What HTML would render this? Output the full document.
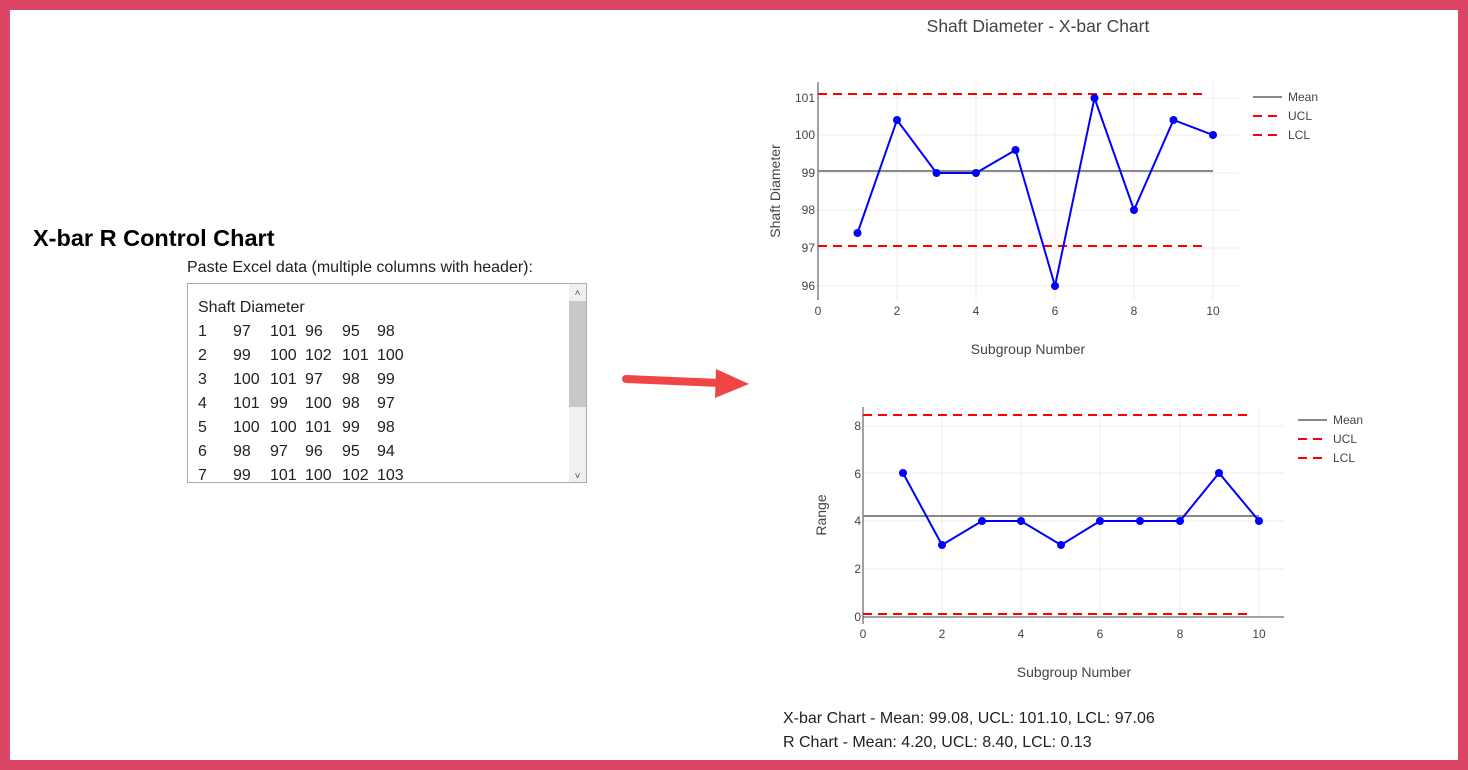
<!DOCTYPE html>
<html><head><meta charset="utf-8"><style>
html,body{margin:0;padding:0;width:1468px;height:770px;overflow:hidden;background:#dc4666;}
#w{position:absolute;left:10px;top:10px;width:1448px;height:750px;background:#fff;}
svg{position:absolute;left:0;top:0;}
</style></head><body>
<div id="w"></div>
<svg width="1468" height="770" xmlns="http://www.w3.org/2000/svg" font-family="'Liberation Sans',sans-serif">
<text x="33" y="246" font-size="23.5" font-weight="bold" fill="#000">X-bar R Control Chart</text>
<text x="187" y="272" font-size="16" fill="#222">Paste Excel data (multiple columns with header):</text>
<rect x="187.5" y="283.5" width="399" height="199" fill="#fff" stroke="#aaa"/>
<rect x="569" y="284" width="17" height="198" fill="#f0f0f0"/>
<rect x="569" y="301" width="17" height="106" fill="#c8c8c8"/>
<text x="577.5" y="296" font-size="10" text-anchor="middle" fill="#555">˄</text>
<text x="577.5" y="479" font-size="10" text-anchor="middle" fill="#555">˅</text>
<g font-size="16" fill="#222">
<text x="198" y="312">Shaft Diameter</text>
<text x="198" y="336">1</text><text x="233" y="336">97</text><text x="270" y="336">101</text><text x="305" y="336">96</text><text x="342" y="336">95</text><text x="377" y="336">98</text>
<text x="198" y="360">2</text><text x="233" y="360">99</text><text x="270" y="360">100</text><text x="305" y="360">102</text><text x="342" y="360">101</text><text x="377" y="360">100</text>
<text x="198" y="384">3</text><text x="233" y="384">100</text><text x="270" y="384">101</text><text x="305" y="384">97</text><text x="342" y="384">98</text><text x="377" y="384">99</text>
<text x="198" y="408">4</text><text x="233" y="408">101</text><text x="270" y="408">99</text><text x="305" y="408">100</text><text x="342" y="408">98</text><text x="377" y="408">97</text>
<text x="198" y="432">5</text><text x="233" y="432">100</text><text x="270" y="432">100</text><text x="305" y="432">101</text><text x="342" y="432">99</text><text x="377" y="432">98</text>
<text x="198" y="456">6</text><text x="233" y="456">98</text><text x="270" y="456">97</text><text x="305" y="456">96</text><text x="342" y="456">95</text><text x="377" y="456">94</text>
<text x="198" y="480">7</text><text x="233" y="480">99</text><text x="270" y="480">101</text><text x="305" y="480">100</text><text x="342" y="480">102</text><text x="377" y="480">103</text>
</g>
<path d="M626 379 L720 383" stroke="#f04545" stroke-width="8" stroke-linecap="round"/>
<path d="M716 369 L749 384 L715 398 Z" fill="#f04545"/>

<text x="1038" y="32" font-size="17.5" fill="#444" text-anchor="middle">Shaft Diameter - X-bar Chart</text>
<g stroke="#eee" stroke-width="1">
<line x1="897" y1="82" x2="897" y2="300"/><line x1="976" y1="82" x2="976" y2="300"/><line x1="1055" y1="82" x2="1055" y2="300"/><line x1="1134" y1="82" x2="1134" y2="300"/><line x1="1213" y1="82" x2="1213" y2="300"/>
<line x1="818" y1="98" x2="1239" y2="98"/><line x1="818" y1="135" x2="1239" y2="135"/><line x1="818" y1="173" x2="1239" y2="173"/><line x1="818" y1="210" x2="1239" y2="210"/><line x1="818" y1="248" x2="1239" y2="248"/><line x1="818" y1="286" x2="1239" y2="286"/>
</g>
<line x1="818" y1="82" x2="818" y2="300" stroke="#444" stroke-width="1"/>
<line x1="818" y1="94" x2="1206" y2="94" stroke="#f00" stroke-width="2" stroke-dasharray="9,6"/>
<line x1="818" y1="246" x2="1206" y2="246" stroke="#f00" stroke-width="2" stroke-dasharray="9,6"/>
<line x1="818" y1="171" x2="1213" y2="171" stroke="#888" stroke-width="2"/>
<polyline fill="none" stroke="#00f" stroke-width="2" points="857.5,233 897,120 936.5,173 976,173 1015.5,150 1055,286 1094.5,98 1134,210 1173.5,120 1213,135"/>
<g fill="#00f"><circle cx="857.5" cy="233" r="4"/><circle cx="897" cy="120" r="4"/><circle cx="936.5" cy="173" r="4"/><circle cx="976" cy="173" r="4"/><circle cx="1015.5" cy="150" r="4"/><circle cx="1055" cy="286" r="4"/><circle cx="1094.5" cy="98" r="4"/><circle cx="1134" cy="210" r="4"/><circle cx="1173.5" cy="120" r="4"/><circle cx="1213" cy="135" r="4"/></g>
<g font-size="12" fill="#444" text-anchor="end">
<text x="815" y="102">101</text><text x="815" y="139">100</text><text x="815" y="177">99</text><text x="815" y="214">98</text><text x="815" y="252">97</text><text x="815" y="290">96</text></g>
<g font-size="12" fill="#444" text-anchor="middle">
<text x="818" y="315">0</text><text x="897" y="315">2</text><text x="976" y="315">4</text><text x="1055" y="315">6</text><text x="1134" y="315">8</text><text x="1213" y="315">10</text></g>
<text x="1028" y="354" font-size="14" fill="#444" text-anchor="middle">Subgroup Number</text>
<text transform="translate(780,191) rotate(-90)" font-size="14" fill="#444" text-anchor="middle">Shaft Diameter</text>
<line x1="1253" y1="97" x2="1282" y2="97" stroke="#888" stroke-width="2"/>
<line x1="1253" y1="116" x2="1282" y2="116" stroke="#f00" stroke-width="2" stroke-dasharray="9,6"/>
<line x1="1253" y1="135" x2="1282" y2="135" stroke="#f00" stroke-width="2" stroke-dasharray="9,6"/>
<g font-size="12" fill="#444"><text x="1288" y="101">Mean</text><text x="1288" y="120">UCL</text><text x="1288" y="139">LCL</text></g>

<g stroke="#eee" stroke-width="1">
<line x1="942" y1="407" x2="942" y2="617"/><line x1="1021" y1="407" x2="1021" y2="617"/><line x1="1100" y1="407" x2="1100" y2="617"/><line x1="1180" y1="407" x2="1180" y2="617"/><line x1="1259" y1="407" x2="1259" y2="617"/>
<line x1="863" y1="426" x2="1284" y2="426"/><line x1="863" y1="473" x2="1284" y2="473"/><line x1="863" y1="521" x2="1284" y2="521"/><line x1="863" y1="569" x2="1284" y2="569"/>
</g>
<line x1="863" y1="407" x2="863" y2="624" stroke="#444"/>
<line x1="863" y1="617" x2="1284" y2="617" stroke="#444"/>
<line x1="863" y1="415" x2="1252" y2="415" stroke="#f00" stroke-width="2" stroke-dasharray="9,6"/>
<line x1="863" y1="614" x2="1252" y2="614" stroke="#f00" stroke-width="2" stroke-dasharray="9,6"/>
<line x1="863" y1="516" x2="1259" y2="516" stroke="#888" stroke-width="2"/>
<polyline fill="none" stroke="#00f" stroke-width="2" points="903,473 942,545 982,521 1021,521 1061,545 1100,521 1140,521 1180,521 1219,473 1259,521"/>
<g fill="#00f"><circle cx="903" cy="473" r="4"/><circle cx="942" cy="545" r="4"/><circle cx="982" cy="521" r="4"/><circle cx="1021" cy="521" r="4"/><circle cx="1061" cy="545" r="4"/><circle cx="1100" cy="521" r="4"/><circle cx="1140" cy="521" r="4"/><circle cx="1180" cy="521" r="4"/><circle cx="1219" cy="473" r="4"/><circle cx="1259" cy="521" r="4"/></g>
<g font-size="12" fill="#444" text-anchor="end">
<text x="861" y="430">8</text><text x="861" y="478">6</text><text x="861" y="525">4</text><text x="861" y="573">2</text><text x="861" y="621">0</text></g>
<g font-size="12" fill="#444" text-anchor="middle">
<text x="863" y="638">0</text><text x="942" y="638">2</text><text x="1021" y="638">4</text><text x="1100" y="638">6</text><text x="1180" y="638">8</text><text x="1259" y="638">10</text></g>
<text x="1074" y="677" font-size="14" fill="#444" text-anchor="middle">Subgroup Number</text>
<text transform="translate(826,515) rotate(-90)" font-size="14" fill="#444" text-anchor="middle">Range</text>
<line x1="1298" y1="420" x2="1327" y2="420" stroke="#888" stroke-width="2"/>
<line x1="1298" y1="439" x2="1327" y2="439" stroke="#f00" stroke-width="2" stroke-dasharray="9,6"/>
<line x1="1298" y1="458" x2="1327" y2="458" stroke="#f00" stroke-width="2" stroke-dasharray="9,6"/>
<g font-size="12" fill="#444"><text x="1333" y="424">Mean</text><text x="1333" y="443">UCL</text><text x="1333" y="462">LCL</text></g>

<text x="783" y="723" font-size="16" fill="#222">X-bar Chart - Mean: 99.08, UCL: 101.10, LCL: 97.06</text>
<text x="783" y="747" font-size="16" fill="#222">R Chart - Mean: 4.20, UCL: 8.40, LCL: 0.13</text>
</svg>
</body></html>
